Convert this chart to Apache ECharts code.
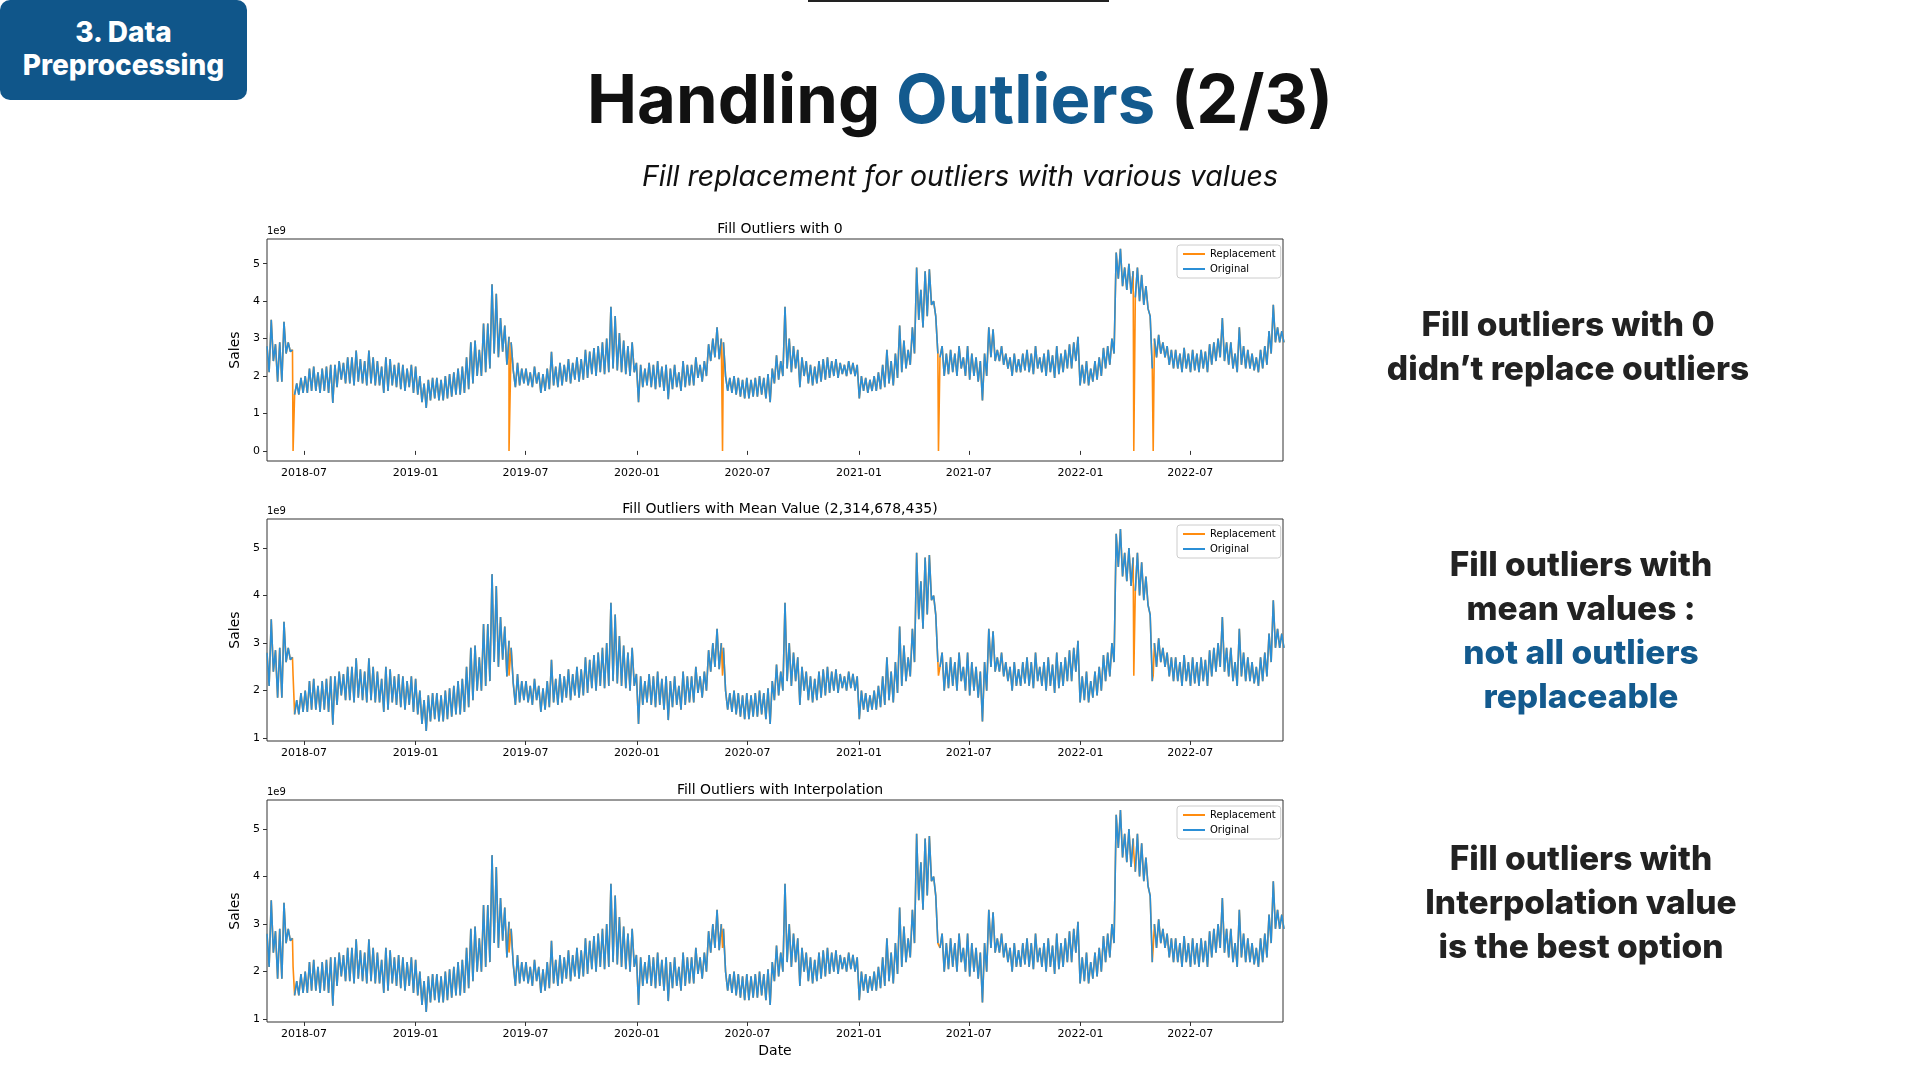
<!DOCTYPE html>
<html lang="en">
<head>
<meta charset="UTF-8">
<title>Handling Outliers (2/3)</title>
<script src="https://cdn.jsdelivr.net/npm/echarts@6/dist/echarts.min.js"></script>
<style>
    html, body { margin: 0; padding: 0; background: #fff; }
    #page { position: relative; width: 1920px; height: 1080px; overflow: hidden; font-family: Inter, "Noto Sans", sans-serif; }
    #chart { position: absolute; left: 0; top: 0; width: 1920px; height: 1080px; }
    .topline { position: absolute; left: 808px; top: 0; width: 301px; height: 2px; background: #222; }
    .badge { position: absolute; left: 0; top: 0; width: 247px; height: 100px; background: #10568a; border-radius: 10px;
        color: #fff; font-weight: 800; font-size: 28px; line-height: 33px; text-align: center; padding-top: 16px; box-sizing: border-box; }
    .title { position: absolute; left: 0; width: 1920px; top: 58px; text-align: center; font-size: 67px; font-weight: 700; color: #111; }
    .title span { color: #135a8e; }
    .subtitle { position: absolute; left: 0; width: 1920px; top: 158px; text-align: center; font-size: 28.5px; font-style: italic; color: #111; }
    .note { position: absolute; width: 600px; text-align: center; font-size: 33.5px; font-weight: 800; line-height: 44px; color: #222; }
    .note .blue { color: #135a8e; }
</style>
</head>
<body>
<div id="page">
    <div id="chart"></div>
    <div class="topline"></div>
    <div class="badge">3. Data<br>Preprocessing</div>
    <div class="title">Handling <span>Outliers</span> (2/3)</div>
    <div class="subtitle">Fill replacement for outliers with various values</div>
    <div class="note" style="left:1268px; top:302px;">Fill outliers with 0<br>didn’t replace outliers</div>
    <div class="note" style="left:1281px; top:542px;">Fill outliers with<br>mean values :<br><span class="blue">not all outliers<br>replaceable</span></div>
    <div class="note" style="left:1281px; top:836px;">Fill outliers with<br>Interpolation value<br>is the best option</div>
</div>
<script type="text/javascript">
    // weekly shape (units of 1e9): a peak at each week start, a trough mid-week
    var startDate = '2018-05-01';
    var weekPeak = [
        2.8, 3.5, 2.85, 2.9, 3.45,  2.9, 2.7, 1.8, 1.95,  2.0, 2.2, 2.25, 2.1, 2.2,  2.25, 2.3, 2.3, 2.4,
        2.35, 2.5, 2.5, 2.68,  2.45, 2.4, 2.68, 2.5, 2.4,  2.25, 2.5, 2.45, 2.3,  2.35, 2.3, 2.2, 2.3,
        2.25, 2.0, 1.8, 1.9, 1.95,  1.95, 1.9, 2.0, 2.05,  2.1, 2.2, 2.25, 2.5,  2.9, 2.95, 2.7, 3.4, 3.4,
        4.45, 4.2, 3.55, 3.35,  3.05, 2.15, 2.35, 2.2,  2.2, 2.1, 2.25, 2.1, 2.05,  2.2, 2.65, 2.25, 2.35,
        2.3, 2.45, 2.35, 2.5,  2.45, 2.7, 2.65, 2.75, 2.8,  2.9, 3.0, 3.85, 3.6,  3.15, 2.95, 2.8, 2.9, 2.35,
        2.3, 2.2, 2.35, 2.3,  2.4, 2.25, 2.3, 2.2,  2.3, 2.1, 2.4, 2.3, 2.3,  2.5, 2.3, 2.4, 2.85,
        3.0, 3.3, 3.0, 2.0,  1.95, 2.0, 1.95, 1.9, 1.95,  1.9, 1.95, 2.0, 1.95,  2.05, 2.2, 2.55, 2.4,
        3.85, 3.0, 2.8, 2.7, 2.5,  2.4, 2.3, 2.25, 2.4,  2.45, 2.5, 2.4, 2.45,  2.35, 2.3, 2.4, 2.35, 2.3,
        2.0, 1.95, 1.9, 2.0,  2.1, 2.3, 2.7, 2.4,  2.6, 3.35, 2.95, 2.7, 3.3,  4.9, 4.3, 4.8, 4.85,
        4.0, 2.6, 2.8, 2.6,  2.7, 2.6, 2.8, 2.5, 2.8,  2.6, 2.5, 2.4, 2.6,  3.3, 3.25, 2.7, 2.8, 2.6,
        2.5, 2.6, 2.45, 2.6,  2.7, 2.6, 2.8, 2.5,  2.6, 2.7, 2.55, 2.8, 2.6,  2.7, 2.85, 2.9, 3.05,
        2.3, 2.4, 2.2, 2.4,  2.5, 2.75, 2.8, 3.0,  5.3, 5.4, 4.9, 5.0, 4.8,  4.9, 4.7, 4.4, 3.6,
        3.0, 3.1, 2.9, 2.8, 2.7,  2.7, 2.6, 2.75, 2.6,  2.7, 2.6, 2.7, 2.65,  2.85, 2.9, 3.0, 3.55, 2.9,
        2.9, 2.6, 3.3, 2.8,  2.7, 2.6, 2.5, 2.7,  2.8, 3.2, 3.9, 3.3, 3.2
    ];
    var weekTrough = [
        2.1, 2.4, 1.85, 1.85, 2.6,  2.65, 1.5, 1.5, 1.55,  1.55, 1.6, 1.6, 1.55, 1.6,  1.55, 1.28, 1.7, 1.9,
        1.8, 1.8, 1.75, 1.85,  1.8, 1.75, 1.8, 1.75, 1.75,  1.55, 1.6, 1.75, 1.7,  1.65, 1.6, 1.7, 1.55,
        1.5, 1.3, 1.15, 1.35, 1.4,  1.35, 1.35, 1.4, 1.45,  1.5, 1.5, 1.55, 1.65,  1.8, 2.0, 2.0, 2.1, 2.2,
        2.6, 2.5, 2.65, 2.3,  2.9, 1.7, 1.75, 1.8,  1.75, 1.7, 1.8, 1.55, 1.6,  1.65, 1.75, 1.7, 1.75,
        1.85, 1.8, 1.9, 1.85,  1.9, 1.95, 2.05, 2.0, 2.1,  2.05, 2.1, 2.2, 2.15,  2.1, 2.05, 2.0, 2.1, 1.3,
        1.7, 1.75, 1.7, 1.65,  1.7, 1.6, 1.38, 1.65,  1.7, 1.6, 1.7, 1.75, 1.75,  1.95, 1.85, 2.0, 2.4,
        2.5, 2.45, 2.9, 1.6,  1.55, 1.5, 1.45, 1.4, 1.4,  1.45, 1.45, 1.5, 1.4,  1.3, 1.8, 1.9, 2.0,
        2.2, 2.1, 2.2, 1.7, 2.0,  1.8, 1.75, 1.8, 1.85,  1.9, 1.95, 2.0, 1.95,  2.05, 2.0, 2.05, 2.0, 1.4,
        1.6, 1.55, 1.6, 1.6,  1.65, 1.7, 1.8, 1.75,  1.95, 2.1, 2.2, 2.3, 2.6,  3.5, 3.3, 3.6, 3.9,
        3.6, 2.5, 2.0, 2.05,  2.1, 2.0, 2.2, 2.0, 1.9,  2.0, 1.85, 1.35, 2.0,  2.5, 2.4, 2.4, 2.3, 2.2,
        2.0, 2.1, 2.1, 2.15,  2.1, 2.05, 2.2, 2.1,  2.0, 2.1, 1.95, 2.05, 2.1,  2.2, 2.2, 2.4, 1.75,
        1.8, 1.75, 1.85, 1.9,  2.0, 2.2, 2.3, 2.6,  4.6, 4.4, 4.3, 4.2, 4.1,  4.0, 3.9, 3.8, 2.2,
        2.5, 2.6, 2.5, 2.3, 2.2,  2.2, 2.1, 2.2, 2.1,  2.15, 2.1, 2.2, 2.1,  2.3, 2.4, 2.5, 2.4, 2.3,
        2.2, 2.1, 2.3, 2.2,  2.2, 2.15, 2.1, 2.2,  2.3, 2.6, 2.9, 2.9, 2.9
    ];
    var outlierDates = ['2018-06-13', '2019-06-04', '2020-05-21', '2021-05-12', '2022-03-30', '2022-05-01'];
    var fillZero = [0, 0, 0, 0, 0, 0];
    var fillMean = [2.314678435, 2.314678435, 2.314678435, 2.314678435, 2.314678435, 2.314678435];
    var fillInterp = [2.1, 2.4, 2.5, 2.6, 4.5, 2.5];
    var xTicks = ['2018-07', '2019-01', '2019-07', '2020-01', '2020-07', '2021-01', '2021-07', '2022-01', '2022-07'];
    var panelTitles = ['Fill Outliers with 0', 'Fill Outliers with Mean Value (2,314,678,435)', 'Fill Outliers with Interpolation'];

    var DAY = 86400000;
    function ts(s) { var p = s.split('-'); return Date.UTC(+p[0], +p[1] - 1, p[2] ? +p[2] : 1); }
    var t0 = ts(startDate);

    var base = [];
    for (var w = 0; w < weekPeak.length; w++) {
        base.push([t0 + w * 7 * DAY, weekPeak[w]]);
        base.push([t0 + (w * 7 + 3.5) * DAY, weekTrough[w]]);
    }

    function buildSeries(fill) {
        var repl = base.map(function (p) { return [p[0], p[1], 0]; });
        outlierDates.forEach(function (d, i) { repl.push([ts(d), fill[i], 1]); });
        repl.sort(function (a, b) { return a[0] - b[0]; });
        var orig = repl.map(function (p) { return [p[0], p[2] ? null : p[1]]; });
        return { repl: repl.map(function (p) { return [p[0], p[1]]; }), orig: orig };
    }
    var fills = [fillZero, fillMean, fillInterp];

    var tops = [239, 519, 800];
    var gridH = 222;
    var font = 'DejaVu Sans';
    var option = { animation: false, title: [], grid: [], xAxis: [], yAxis: [], series: [], legend: [], graphic: [] };
    var tickVals = xTicks.map(ts);
    function fmtMonth(v) { var d = new Date(v); return d.getUTCFullYear() + '-' + ('0' + (d.getUTCMonth() + 1)).slice(-2); }

    for (var k = 0; k < 3; k++) {
        var s = buildSeries(fills[k]);
        option.title.push({ text: panelTitles[k], left: 775, top: tops[k] - 22, textAlign: 'center',
            textStyle: { fontFamily: font, fontSize: 14, fontWeight: 'normal', color: '#000' } });
        option.grid.push({ left: 267, width: 1016, top: tops[k], height: gridH, show: true, borderColor: '#333', borderWidth: 1 });
        option.xAxis.push({
            type: 'value', gridIndex: k, min: t0, max: ts('2022-12-01'),
            name: k === 2 ? 'Date' : '', nameLocation: 'middle', nameGap: 22,
            nameTextStyle: { fontFamily: font, fontSize: 14, color: '#000' },
            axisLine: { show: false },
            splitLine: { show: false },
            axisTick: { show: true, customValues: tickVals, length: 4, lineStyle: { color: '#333' } },
            axisLabel: { customValues: tickVals, fontFamily: font, fontSize: 11, color: '#000', margin: 7, formatter: fmtMonth }
        });
        var yVals = k === 0 ? [0, 1, 2, 3, 4, 5] : [1, 2, 3, 4, 5];
        option.yAxis.push({
            type: 'value', gridIndex: k, min: k === 0 ? -0.27 : 0.94, max: k === 0 ? 5.66 : 5.61,
            name: 'Sales', nameLocation: 'middle', nameGap: 18,
            nameTextStyle: { fontFamily: font, fontSize: 14, color: '#000' },
            axisLine: { show: false }, splitLine: { show: false },
            axisTick: { show: true, customValues: yVals, length: 4, lineStyle: { color: '#333' } },
            axisLabel: { customValues: yVals, fontFamily: font, fontSize: 11, color: '#000', margin: 7 }
        });
        option.series.push({ name: 'Replacement', type: 'line', xAxisIndex: k, yAxisIndex: k, data: s.repl,
            symbol: 'none', lineStyle: { width: 1.6, color: '#ff8c0f' }, itemStyle: { color: '#ff8c0f' } });
        option.series.push({ name: 'Original', type: 'line', xAxisIndex: k, yAxisIndex: k, data: s.orig,
            symbol: 'none', connectNulls: false, lineStyle: { width: 1.6, color: '#2b8fd6' }, itemStyle: { color: '#2b8fd6' } });
        option.legend.push({ data: ['Replacement', 'Original'], orient: 'vertical', left: 1177, top: tops[k] + 6,
            itemWidth: 22, itemHeight: 2, itemGap: 5, padding: [4, 5], borderColor: '#ccc', borderWidth: 1, borderRadius: 3,
            backgroundColor: 'rgba(255,255,255,0.8)',
            textStyle: { fontFamily: font, fontSize: 10, color: '#000' } });
        option.graphic.push({ type: 'text', left: 267, top: tops[k] - 13,
            style: { text: '1e9', fontFamily: font, fontSize: 10, fill: '#000' } });
    }

    var myChart = echarts.init(document.getElementById('chart'));
    myChart.setOption(option);
</script>
</body>
</html>
